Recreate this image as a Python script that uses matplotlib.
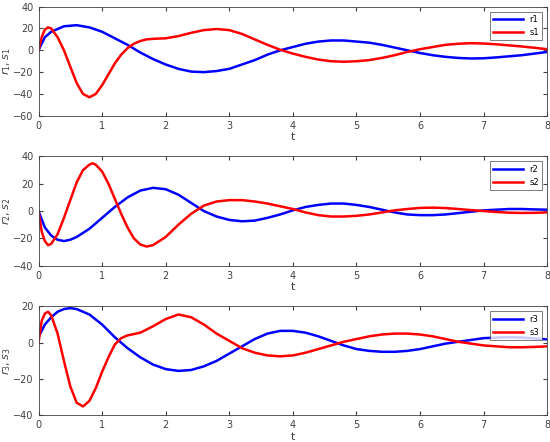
import matplotlib
matplotlib.use("Agg")
import matplotlib.pyplot as plt

t1 = [0,0.1,0.2,0.4,0.6,0.8,1.0,1.2,1.4,1.6,1.8,2.0,2.2,2.4,2.6,2.8,3.0,3.2,3.4,3.6,3.8,4.0,4.2,4.4,4.6,4.8,5.0,5.2,5.4,5.6,5.8,6.0,6.2,6.4,6.6,6.8,7.0,7.2,7.4,7.6,7.8,8.0]
r1 = [0,12,17,22,23,21,17,11,5,-2,-8,-13,-17,-19.5,-20,-19,-17,-13,-9,-4,0,3,6,8,9,9,8,7,5,2.5,0,-2.5,-4.5,-6,-7,-7.5,-7.3,-6.5,-5.5,-4.5,-3,-1.5]
ts1 = [0,0.05,0.1,0.15,0.2,0.3,0.4,0.5,0.6,0.7,0.8,0.9,1.0,1.1,1.2,1.3,1.4,1.5,1.6,1.7,1.8,2.0,2.2,2.4,2.6,2.8,3.0,3.2,3.4,3.6,3.8,4.0,4.2,4.4,4.6,4.8,5.0,5.2,5.4,5.6,5.8,6.0,6.2,6.4,6.6,6.8,7.0,7.2,7.4,7.6,7.8,8.0]
s1 = [0,12,19,21,20,12,0,-15,-30,-40,-43,-40,-32,-22,-12,-4,2,6,8.5,10,10.5,11,13,16,18.5,19.5,18.5,15,10,5,0.5,-3,-6,-8.5,-10,-10.5,-10,-9,-7,-4.5,-1.5,1,3,5,6,6.5,6.2,5.5,4.5,3.5,2.3,1]

tr2 = [0,0.1,0.2,0.3,0.4,0.5,0.6,0.8,1.0,1.2,1.4,1.6,1.8,2.0,2.2,2.4,2.6,2.8,3.0,3.2,3.4,3.6,3.8,4.0,4.2,4.4,4.6,4.8,5.0,5.2,5.4,5.6,5.8,6.0,6.2,6.4,6.6,6.8,7.0,7.2,7.4,7.6,7.8,8.0]
r2 = [0,-12,-18,-21,-22,-21,-19,-13,-5,3,10,15,17,16,12,6,0,-4,-6.5,-7.5,-7,-5,-2.5,0.5,3,4.5,5.5,5.5,4.5,3,1,-1,-2.5,-3,-3,-2.5,-1.5,-0.5,0.5,1,1.5,1.5,1.2,1]
ts2 = [0,0.05,0.1,0.15,0.2,0.3,0.4,0.5,0.6,0.7,0.8,0.85,0.9,1.0,1.1,1.2,1.3,1.4,1.5,1.6,1.7,1.8,2.0,2.2,2.4,2.6,2.8,3.0,3.2,3.4,3.6,3.8,4.0,4.2,4.4,4.6,4.8,5.0,5.2,5.4,5.6,5.8,6.0,6.2,6.4,6.6,6.8,7.0,7.2,7.4,7.6,7.8,8.0]
s2 = [0,-15,-22,-25,-24,-17,-5,8,21,30,34,35,34,29,20,9,-2,-12,-20,-24.5,-26,-25,-19,-10,-2,4,7,8,8,7,5.5,3.5,1.5,-1,-3,-4,-4,-3.5,-2.5,-1,0.5,1.5,2.3,2.5,2.2,1.5,0.7,0,-0.7,-1.2,-1.4,-1.3,-1]

r3 = [3,10,14,17,18.5,19,18.5,15.5,10,3,-3,-8,-12,-14.5,-15.5,-15,-13,-10,-6,-2,2,5,6.5,6.5,5.5,3.5,1,-1.5,-3.5,-4.5,-5,-5,-4.5,-3.5,-2,-0.5,0.5,1.5,2.5,2.8,3,2.8,2.3,1.8]
ts3 = [0,0.05,0.1,0.15,0.2,0.3,0.4,0.5,0.6,0.7,0.8,0.9,1.0,1.1,1.2,1.3,1.4,1.6,1.8,2.0,2.2,2.4,2.6,2.8,3.0,3.2,3.4,3.6,3.8,4.0,4.2,4.4,4.6,4.8,5.0,5.2,5.4,5.6,5.8,6.0,6.2,6.4,6.6,6.8,7.0,7.2,7.4,7.6,7.8,8.0]
s3 = [0,12,16,17,15,5,-10,-24,-33,-35,-32,-25,-16,-8,-1,2.5,4,5.5,9,13,15.5,14,10,5,1,-3,-5.5,-7,-7.5,-7,-5.5,-3.5,-1.5,0.5,2,3.5,4.5,5,5,4.5,3.5,2,0.5,-0.5,-1.5,-2,-2.5,-2.5,-2.3,-2]

panels = [
    (t1, r1, ts1, s1, 'r1', 's1', r'$r_1,s_1$', (-60, 40), [-60,-40,-20,0,20,40]),
    (tr2, r2, ts2, s2, 'r2', 's2', r'$r_2,s_2$', (-40, 40), [-40,-20,0,20,40]),
    (tr2, r3, ts3, s3, 'r3', 's3', r'$r_3,s_3$', (-40, 20), [-40,-20,0,20]),
]

fig = plt.figure(figsize=(5.5, 4.42), dpi=100)
bottoms = [0.738, 0.399, 0.060]
gray = '#404040'
for (tr, r, ts, s, lr, ls, yl, ylim, yt), b in zip(panels, bottoms):
    ax = fig.add_axes([0.07, b, 0.925, 0.247])
    ax.plot(tr, r, color='#0000ff', lw=1.8, label=lr, solid_joinstyle='round')
    ax.plot(ts, s, color='#ff0000', lw=1.8, label=ls, solid_joinstyle='round')
    ax.set_xlim(0, 8)
    ax.set_ylim(*ylim)
    ax.set_yticks(yt)
    ax.set_xticks(range(9))
    ax.tick_params(labelsize=7, direction='in', length=3, top=True, right=True,
                   colors=gray, labelcolor=gray)
    ax.set_xlabel('t', fontsize=8, labelpad=1, color=gray)
    ax.set_ylabel(yl, fontsize=8, labelpad=0, color=gray)
    for sp in ax.spines.values():
        sp.set_linewidth(0.6)
        sp.set_color(gray)
    leg = ax.legend(loc='upper right', fontsize=6, fancybox=False, edgecolor=gray,
                    handlelength=3.5, borderaxespad=0.6)
    leg.get_frame().set_linewidth(0.6)

fig.savefig('out.png', dpi=100)
